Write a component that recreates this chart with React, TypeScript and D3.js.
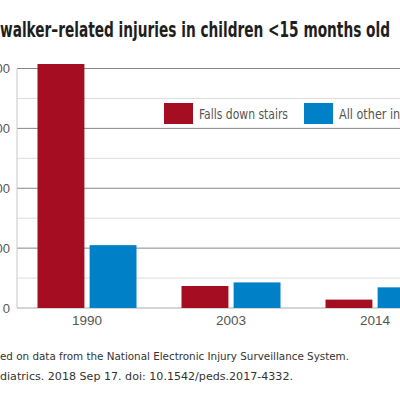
import React from "react";
import * as d3 from "d3";

const YEARS = ["1990", "2003", "2014"];
const SERIES = [
  { name: "Falls down stairs", color: "#a50d22" },
  { name: "All other injuries", color: "#0080c6" },
];
const FALLS = [16300, 1470, 560];
const OTHER = [4200, 1710, 1380];
const MAJOR_TICKS = [0, 4000, 8000, 12000, 16000];
const MINOR_TICKS = [2000, 6000, 10000, 14000];

const TITLE = "walker–related injuries in children <15 months old";
const NOTE_1 = "ed on data from the National Electronic Injury Surveillance System.";
const NOTE_2 = "diatrics. 2018 Sep 17. doi: 10.1542/peds.2017-4332.";

const W = 400;
const H = 400;
const AXIS_X = 17;

export default function App() {
  const x0 = d3.scaleBand<string>().domain(YEARS).range([15, 447]).padding(0);
  const x1 = d3
    .scaleBand<number>()
    .domain([0, 1])
    .range([-49.5, 49.5])
    .paddingInner(0.1)
    .paddingOuter(0);
  const y = d3.scaleLinear().domain([0, 16000]).range([308, 68.5]);

  const values = [FALLS, OTHER];

  return (
    <svg
      width={W}
      height={H}
      style={{ position: "absolute", left: 0, top: 0, background: "#fff" }}
    >
      {/* title */}
      <text
        x={0}
        y={37}
        fontFamily="'Liberation Sans Narrow', 'DejaVu Sans Condensed', sans-serif"
        fontSize={21}
        fontWeight={700}
        fill="#1e1e1e"
        textLength={390}
        lengthAdjust="spacingAndGlyphs"
      >
        {TITLE}
      </text>

      {/* minor gridlines */}
      {MINOR_TICKS.map((t) => (
        <line key={"m" + t} x1={AXIS_X} x2={W} y1={y(t)} y2={y(t)} stroke="#dcdcdc" strokeWidth={1} />
      ))}
      {/* major gridlines */}
      {MAJOR_TICKS.map((t) => (
        <line
          key={"M" + t}
          x1={AXIS_X}
          x2={W}
          y1={y(t)}
          y2={y(t)}
          stroke={t === 0 ? "#aaa" : "#888"}
          strokeWidth={1}
        />
      ))}
      <line x1={AXIS_X} x2={AXIS_X} y1={y(16000)} y2={y(0)} stroke="#c8c8c8" strokeWidth={1} />

      {/* y tick labels (mostly off the left edge) */}
      {MAJOR_TICKS.map((t) => (
        <text
          key={"l" + t}
          x={10}
          y={y(t) + 4.5}
          textAnchor="end"
          fontFamily="'Liberation Sans', Arial, sans-serif"
          fontSize={13}
          fill="#555"
        >
          {d3.format(",")(t)}
        </text>
      ))}

      {/* bars */}
      {YEARS.map((yr, i) => {
        const cx = (x0(yr) ?? 0) + x0.bandwidth() / 2;
        return (
          <g key={yr} transform={`translate(${cx},0)`}>
            {SERIES.map((s, j) => (
              <rect
                key={s.name}
                x={x1(j)}
                y={y(values[j][i])}
                width={x1.bandwidth()}
                height={y(0) - y(values[j][i])}
                fill={s.color}
              />
            ))}
            <text
              x={0}
              y={325}
              textAnchor="middle"
              fontFamily="'Liberation Sans', Arial, sans-serif"
              fontSize={13.5}
              fill="#555"
            >
              {yr}
            </text>
          </g>
        );
      })}

      {/* legend */}
      <g>
        <rect x={164} y={103} width={29} height={21} fill={SERIES[0].color} />
        <text
          x={199}
          y={119}
          fontFamily="'Liberation Sans Narrow', 'DejaVu Sans Condensed', sans-serif"
          fontSize={14}
          fill="#555"
          textLength={89}
          lengthAdjust="spacingAndGlyphs"
        >
          {SERIES[0].name}
        </text>
        <rect x={304} y={103} width={29} height={21} fill={SERIES[1].color} />
        <text
          x={339}
          y={119}
          fontFamily="'Liberation Sans Narrow', 'DejaVu Sans Condensed', sans-serif"
          fontSize={14}
          fill="#555"
          textLength={92}
          lengthAdjust="spacingAndGlyphs"
        >
          {SERIES[1].name}
        </text>
      </g>

      {/* notes */}
      <text
        x={0}
        y={360}
        fontFamily="'DejaVu Sans', Verdana, sans-serif"
        fontSize={11}
        fill="#333"
        textLength={349}
        lengthAdjust="spacingAndGlyphs"
      >
        {NOTE_1}
      </text>
      <text
        x={0}
        y={380}
        fontFamily="'DejaVu Sans', Verdana, sans-serif"
        fontSize={11}
        fill="#333"
        textLength={293}
        lengthAdjust="spacingAndGlyphs"
      >
        {NOTE_2}
      </text>
    </svg>
  );
}
